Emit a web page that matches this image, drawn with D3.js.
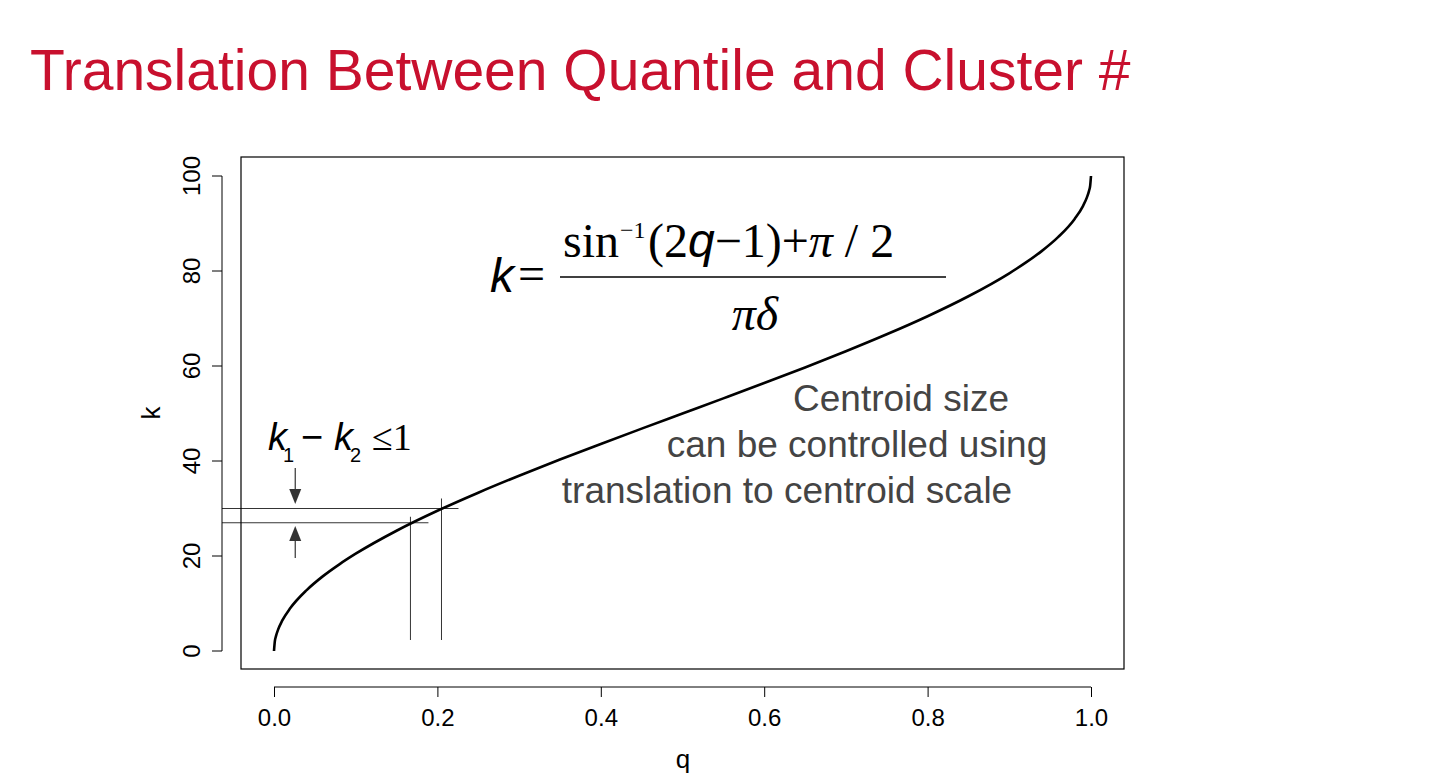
<!DOCTYPE html>
<html><head><meta charset="utf-8">
<script src="https://cdn.jsdelivr.net/npm/d3@7"></script>
<style>body{margin:0;background:#fff}</style></head>
<body><svg id="c" width="1436" height="782"></svg>
<script>
const qValues=[0,0.001,0.0025,0.005,0.01,0.02,0.04,0.06,0.08,0.1,0.15,0.2,0.25,0.3,0.35,0.4,0.45,0.5,0.55,0.6,0.65,0.7,0.75,0.8,0.85,0.9,0.92,0.94,0.96,0.98,0.99,0.995,0.9975,0.999,1];
const kValues=[0,2.01,3.18,4.5,6.38,9.03,12.82,15.76,18.25,20.48,25.32,29.52,33.33,36.9,40.3,43.59,46.81,50,53.19,56.41,59.7,63.1,66.67,70.48,74.68,79.52,81.75,84.24,87.18,90.97,93.62,95.5,96.82,97.99,100];
const xTicks=[0,0.2,0.4,0.6,0.8,1.0];
const yTicks=[0,20,40,60,80,100];
const guideK=[30,27], guideQ=[0.205,0.167];

const svg=d3.select("#c");
const x=d3.scaleLinear().domain([0,1]).range([274,1091]);
const y=d3.scaleLinear().domain([0,100]).range([651,176]);
const F="Liberation Sans, Arial, sans-serif";
svg.append("text").attr("x",30).attr("y",90).attr("font-family",F).attr("font-size",57).attr("fill","#c8102e").text("Translation Between Quantile and Cluster #");
svg.append("rect").attr("x",241).attr("y",157).attr("width",883).attr("height",512).attr("fill","none").attr("stroke","#000").attr("stroke-width",1.2);
const xa=svg.append("g").attr("transform","translate(0,687)").call(d3.axisBottom(x).tickValues(xTicks).tickFormat(d3.format(".1f")).tickSize(10).tickSizeOuter(0));
xa.attr("font-size",null).attr("font-family",null);
xa.select(".domain").attr("d",`M${x(0)},0H${x(1)}`);
xa.selectAll("text").style("font-size","24px").style("font-family",F).attr("dy","1.1em");
const ya=svg.append("g").attr("transform","translate(222,0)").call(d3.axisLeft(y).tickValues(yTicks).tickSize(10).tickSizeOuter(0));
ya.select(".domain").attr("d",`M0,${y(0)}V${y(100)}`);
ya.selectAll(".tick").attr("transform",null);
ya.selectAll(".tick line").each(function(d){d3.select(this).attr("y1",y(d)).attr("y2",y(d));});
ya.selectAll(".tick text").each(function(d){d3.select(this).attr("x",0).attr("y",0).attr("text-anchor","middle").attr("transform",`translate(-22,${y(d)}) rotate(-90)`).attr("dy","0").style("font-size","24px").style("font-family",F);});
svg.append("text").attr("x",683).attr("y",768).attr("text-anchor","middle").attr("font-family",F).attr("font-size",26).text("q");
svg.append("text").attr("transform","translate(160,413) rotate(-90)").attr("text-anchor","middle").attr("font-family",F).attr("font-size",26).text("k");
svg.append("path").datum(qValues.map((q,i)=>[q,kValues[i]])).attr("fill","none").attr("stroke","#000").attr("stroke-width",2.6)
 .attr("d",d3.line().x(d=>x(d[0])).y(d=>y(d[1])).curve(d3.curveMonotoneX));
// guides
svg.append("line").attr("x1",222).attr("x2",x(guideQ[0])+17).attr("y1",y(guideK[0])).attr("y2",y(guideK[0])).attr("stroke","#000").attr("stroke-width",0.8);
svg.append("line").attr("x1",222).attr("x2",x(guideQ[1])+18).attr("y1",y(guideK[1])).attr("y2",y(guideK[1])).attr("stroke","#000").attr("stroke-width",0.8);
svg.append("line").attr("x1",x(guideQ[0])).attr("x2",x(guideQ[0])).attr("y1",640).attr("y2",y(guideK[0])-10).attr("stroke","#000").attr("stroke-width",0.8);
svg.append("line").attr("x1",x(guideQ[1])).attr("x2",x(guideQ[1])).attr("y1",640).attr("y2",y(guideK[1])-6).attr("stroke","#000").attr("stroke-width",0.8);
// arrows
const ax=x(0.026);
svg.append("line").attr("x1",ax).attr("x2",ax).attr("y1",468).attr("y2",495).attr("stroke","#333").attr("stroke-width",1.2);
svg.append("path").attr("d",`M${ax-6},489L${ax+6},489L${ax},504Z`).attr("fill","#333");
svg.append("line").attr("x1",ax).attr("x2",ax).attr("y1",558).attr("y2",535).attr("stroke","#333").attr("stroke-width",1.2);
svg.append("path").attr("d",`M${ax-6},541L${ax+6},541L${ax},526Z`).attr("fill","#333");
// k1-k2 <= 1
const S="Liberation Serif, Times New Roman, serif";
const t1=svg.append("g").attr("font-family",F).attr("font-size",38);
t1.append("text").attr("x",268).attr("y",450).attr("font-style","italic").text("k");
t1.append("text").attr("x",283).attr("y",462).attr("font-size",20).text("1");
t1.append("text").attr("x",301).attr("y",450).text("−");
t1.append("text").attr("x",334).attr("y",450).attr("font-style","italic").text("k");
t1.append("text").attr("x",350).attr("y",462).attr("font-size",20).text("2");
t1.append("text").attr("x",372).attr("y",450).attr("font-family",S).text("≤1");
// formula
const f=svg.append("g").attr("font-family",S).attr("font-size",48);
f.append("text").attr("x",490).attr("y",292).attr("font-family",F).attr("font-style","italic").text("k");
f.append("text").attr("x",518).attr("y",290).text("=");
f.append("text").attr("x",563).attr("y",257).text("sin");
f.append("text").attr("x",620).attr("y",238).attr("font-size",24).text("−1");
f.append("text").attr("x",648).attr("y",257).html('(2<tspan font-family="Liberation Sans" font-style="italic">q</tspan>−1)+<tspan font-style="italic">π</tspan> / 2');
f.append("line").attr("x1",560).attr("x2",946).attr("y1",277).attr("y2",277).attr("stroke","#000").attr("stroke-width",1.5);
f.append("text").attr("x",755).attr("y",330).attr("text-anchor","middle").attr("font-style","italic").text("πδ");
// annotation
const a=svg.append("g").attr("font-family",F).attr("font-size",37).attr("fill","#444").attr("text-anchor","middle");
a.append("text").attr("x",901).attr("y",411).text("Centroid size");
a.append("text").attr("x",857).attr("y",457).text("can be controlled using");
a.append("text").attr("x",787).attr("y",503).text("translation to centroid scale");
</script></body></html>
